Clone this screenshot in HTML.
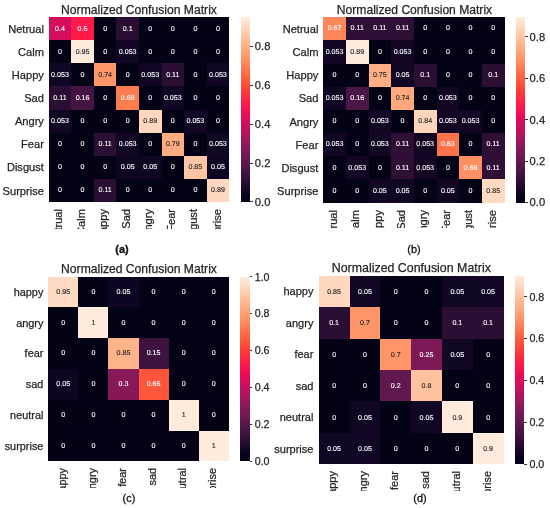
<!DOCTYPE html>
<html><head><meta charset="utf-8"><title>Normalized Confusion Matrix</title>
<style>
html,body{margin:0;padding:0;background:#fff;}
body{--sx:1;width:550px;height:508px;position:relative;overflow:hidden;font-family:"Liberation Sans",Arial,sans-serif;color:#262626;}
div{position:absolute;box-sizing:border-box;}
.c{text-align:center;font-size:7.1px;line-height:1;white-space:nowrap;-webkit-text-stroke:0.12px currentColor;text-rendering:geometricPrecision;}
.c span{display:block;position:relative;transform:scaleX(var(--sx));}
.t{white-space:nowrap;line-height:1;-webkit-text-stroke:0.25px #262626;}
.title{transform:translateX(-50%) scaleX(var(--sx));}
.yl{text-align:right;transform-origin:100% 50%;transform:translateX(-100%) scaleX(var(--sx));}
.cl{transform-origin:0 50%;transform:scaleX(var(--sx));}
.tk{background:#333;height:0.8px;}
.cap{transform:translateX(-50%) scaleX(0.95);font-size:11.5px;color:#111;-webkit-text-stroke:0.3px #111;}
.clip{overflow:hidden;}
.xlw{width:0;height:0;}
.xl2{right:0;top:0;transform-origin:100% 0;transform:translateX(-0.6em) rotate(-90deg);}
</style></head><body>
<!-- panel a -->
<div class="t title" style="left:139.0px;top:4px;font-size:12.15px">Normalized Confusion Matrix</div>
<div style="left:48.7px;top:17.3px;width:180.5px;height:184.5px;background:#040316"></div>
<div class="t yl" style="--sx:1.000;left:43.9px;top:24px;font-size:11.1px">Netrual</div>
<div class="c" style="left:48.70px;top:17.30px;width:22.61px;height:23.11px;background:#d40d5d;color:#fff"><span style="top:8.70px">0.4</span></div>
<div class="c" style="left:71.26px;top:17.30px;width:22.61px;height:23.11px;background:#ff1a4a;color:#fff"><span style="top:8.70px">0.5</span></div>
<div class="c" style="left:93.83px;top:17.30px;width:22.61px;height:23.11px;background:#040316;color:#fff"><span style="top:8.70px">0</span></div>
<div class="c" style="left:116.39px;top:17.30px;width:22.61px;height:23.11px;background:#290e32;color:#fff"><span style="top:8.70px">0.1</span></div>
<div class="c" style="left:138.95px;top:17.30px;width:22.61px;height:23.11px;background:#040316;color:#fff"><span style="top:8.70px">0</span></div>
<div class="c" style="left:161.51px;top:17.30px;width:22.61px;height:23.11px;background:#040316;color:#fff"><span style="top:8.70px">0</span></div>
<div class="c" style="left:184.07px;top:17.30px;width:22.61px;height:23.11px;background:#040316;color:#fff"><span style="top:8.70px">0</span></div>
<div class="c" style="left:206.64px;top:17.30px;width:22.61px;height:23.11px;background:#040316;color:#fff"><span style="top:8.70px">0</span></div>
<div class="t yl" style="--sx:1.000;left:43.9px;top:47px;font-size:11.1px">Calm</div>
<div class="c" style="left:48.70px;top:40.36px;width:22.61px;height:23.11px;background:#040316;color:#fff"><span style="top:8.64px">0</span></div>
<div class="c" style="left:71.26px;top:40.36px;width:22.61px;height:23.11px;background:#ffebdd;color:#262626"><span style="top:8.64px">0.95</span></div>
<div class="c" style="left:93.83px;top:40.36px;width:22.61px;height:23.11px;background:#040316;color:#fff"><span style="top:8.64px">0</span></div>
<div class="c" style="left:116.39px;top:40.36px;width:22.61px;height:23.11px;background:#110623;color:#fff"><span style="top:8.64px">0.053</span></div>
<div class="c" style="left:138.95px;top:40.36px;width:22.61px;height:23.11px;background:#040316;color:#fff"><span style="top:8.64px">0</span></div>
<div class="c" style="left:161.51px;top:40.36px;width:22.61px;height:23.11px;background:#040316;color:#fff"><span style="top:8.64px">0</span></div>
<div class="c" style="left:184.07px;top:40.36px;width:22.61px;height:23.11px;background:#040316;color:#fff"><span style="top:8.64px">0</span></div>
<div class="c" style="left:206.64px;top:40.36px;width:22.61px;height:23.11px;background:#040316;color:#fff"><span style="top:8.64px">0</span></div>
<div class="t yl" style="--sx:1.000;left:43.9px;top:70px;font-size:11.1px">Happy</div>
<div class="c" style="left:48.70px;top:63.42px;width:22.61px;height:23.11px;background:#110623;color:#fff"><span style="top:8.58px">0.053</span></div>
<div class="c" style="left:71.26px;top:63.42px;width:22.61px;height:23.11px;background:#040316;color:#fff"><span style="top:8.58px">0</span></div>
<div class="c" style="left:93.83px;top:63.42px;width:22.61px;height:23.11px;background:#ff9569;color:#262626"><span style="top:8.58px">0.74</span></div>
<div class="c" style="left:116.39px;top:63.42px;width:22.61px;height:23.11px;background:#040316;color:#fff"><span style="top:8.58px">0</span></div>
<div class="c" style="left:138.95px;top:63.42px;width:22.61px;height:23.11px;background:#110623;color:#fff"><span style="top:8.58px">0.053</span></div>
<div class="c" style="left:161.51px;top:63.42px;width:22.61px;height:23.11px;background:#2b0e34;color:#fff"><span style="top:8.58px">0.11</span></div>
<div class="c" style="left:184.07px;top:63.42px;width:22.61px;height:23.11px;background:#040316;color:#fff"><span style="top:8.58px">0</span></div>
<div class="c" style="left:206.64px;top:63.42px;width:22.61px;height:23.11px;background:#110623;color:#fff"><span style="top:8.58px">0.053</span></div>
<div class="t yl" style="--sx:1.000;left:43.9px;top:93px;font-size:11.1px">Sad</div>
<div class="c" style="left:48.70px;top:86.49px;width:22.61px;height:23.11px;background:#2b0e34;color:#fff"><span style="top:8.51px">0.11</span></div>
<div class="c" style="left:71.26px;top:86.49px;width:22.61px;height:23.11px;background:#461443;color:#fff"><span style="top:8.51px">0.16</span></div>
<div class="c" style="left:93.83px;top:86.49px;width:22.61px;height:23.11px;background:#040316;color:#fff"><span style="top:8.51px">0</span></div>
<div class="c" style="left:116.39px;top:86.49px;width:22.61px;height:23.11px;background:#ff7b50;color:#fff"><span style="top:8.51px">0.68</span></div>
<div class="c" style="left:138.95px;top:86.49px;width:22.61px;height:23.11px;background:#040316;color:#fff"><span style="top:8.51px">0</span></div>
<div class="c" style="left:161.51px;top:86.49px;width:22.61px;height:23.11px;background:#110623;color:#fff"><span style="top:8.51px">0.053</span></div>
<div class="c" style="left:184.07px;top:86.49px;width:22.61px;height:23.11px;background:#040316;color:#fff"><span style="top:8.51px">0</span></div>
<div class="c" style="left:206.64px;top:86.49px;width:22.61px;height:23.11px;background:#040316;color:#fff"><span style="top:8.51px">0</span></div>
<div class="t yl" style="--sx:1.000;left:43.9px;top:116px;font-size:11.1px">Angry</div>
<div class="c" style="left:48.70px;top:109.55px;width:22.61px;height:23.11px;background:#110623;color:#fff"><span style="top:8.45px">0.053</span></div>
<div class="c" style="left:71.26px;top:109.55px;width:22.61px;height:23.11px;background:#040316;color:#fff"><span style="top:8.45px">0</span></div>
<div class="c" style="left:93.83px;top:109.55px;width:22.61px;height:23.11px;background:#040316;color:#fff"><span style="top:8.45px">0</span></div>
<div class="c" style="left:116.39px;top:109.55px;width:22.61px;height:23.11px;background:#040316;color:#fff"><span style="top:8.45px">0</span></div>
<div class="c" style="left:138.95px;top:109.55px;width:22.61px;height:23.11px;background:#ffd7bf;color:#262626"><span style="top:8.45px">0.89</span></div>
<div class="c" style="left:161.51px;top:109.55px;width:22.61px;height:23.11px;background:#040316;color:#fff"><span style="top:8.45px">0</span></div>
<div class="c" style="left:184.07px;top:109.55px;width:22.61px;height:23.11px;background:#110623;color:#fff"><span style="top:8.45px">0.053</span></div>
<div class="c" style="left:206.64px;top:109.55px;width:22.61px;height:23.11px;background:#040316;color:#fff"><span style="top:8.45px">0</span></div>
<div class="t yl" style="--sx:1.000;left:43.9px;top:139px;font-size:11.1px">Fear</div>
<div class="c" style="left:48.70px;top:132.61px;width:22.61px;height:23.11px;background:#040316;color:#fff"><span style="top:8.39px">0</span></div>
<div class="c" style="left:71.26px;top:132.61px;width:22.61px;height:23.11px;background:#040316;color:#fff"><span style="top:8.39px">0</span></div>
<div class="c" style="left:93.83px;top:132.61px;width:22.61px;height:23.11px;background:#2b0e34;color:#fff"><span style="top:8.39px">0.11</span></div>
<div class="c" style="left:116.39px;top:132.61px;width:22.61px;height:23.11px;background:#110623;color:#fff"><span style="top:8.39px">0.053</span></div>
<div class="c" style="left:138.95px;top:132.61px;width:22.61px;height:23.11px;background:#040316;color:#fff"><span style="top:8.39px">0</span></div>
<div class="c" style="left:161.51px;top:132.61px;width:22.61px;height:23.11px;background:#ffac82;color:#262626"><span style="top:8.39px">0.79</span></div>
<div class="c" style="left:184.07px;top:132.61px;width:22.61px;height:23.11px;background:#040316;color:#fff"><span style="top:8.39px">0</span></div>
<div class="c" style="left:206.64px;top:132.61px;width:22.61px;height:23.11px;background:#110623;color:#fff"><span style="top:8.39px">0.053</span></div>
<div class="t yl" style="--sx:1.000;left:43.9px;top:162px;font-size:11.1px">Disgust</div>
<div class="c" style="left:48.70px;top:155.68px;width:22.61px;height:23.11px;background:#040316;color:#fff"><span style="top:8.32px">0</span></div>
<div class="c" style="left:71.26px;top:155.68px;width:22.61px;height:23.11px;background:#040316;color:#fff"><span style="top:8.32px">0</span></div>
<div class="c" style="left:93.83px;top:155.68px;width:22.61px;height:23.11px;background:#040316;color:#fff"><span style="top:8.32px">0</span></div>
<div class="c" style="left:116.39px;top:155.68px;width:22.61px;height:23.11px;background:#0f0522;color:#fff"><span style="top:8.32px">0.05</span></div>
<div class="c" style="left:138.95px;top:155.68px;width:22.61px;height:23.11px;background:#0f0522;color:#fff"><span style="top:8.32px">0.05</span></div>
<div class="c" style="left:161.51px;top:155.68px;width:22.61px;height:23.11px;background:#040316;color:#fff"><span style="top:8.32px">0</span></div>
<div class="c" style="left:184.07px;top:155.68px;width:22.61px;height:23.11px;background:#ffc5a4;color:#262626"><span style="top:8.32px">0.85</span></div>
<div class="c" style="left:206.64px;top:155.68px;width:22.61px;height:23.11px;background:#0f0522;color:#fff"><span style="top:8.32px">0.05</span></div>
<div class="t yl" style="--sx:1.000;left:43.9px;top:186px;font-size:11.1px">Surprise</div>
<div class="c" style="left:48.70px;top:178.74px;width:22.61px;height:23.11px;background:#040316;color:#fff"><span style="top:8.26px">0</span></div>
<div class="c" style="left:71.26px;top:178.74px;width:22.61px;height:23.11px;background:#040316;color:#fff"><span style="top:8.26px">0</span></div>
<div class="c" style="left:93.83px;top:178.74px;width:22.61px;height:23.11px;background:#2b0e34;color:#fff"><span style="top:8.26px">0.11</span></div>
<div class="c" style="left:116.39px;top:178.74px;width:22.61px;height:23.11px;background:#040316;color:#fff"><span style="top:8.26px">0</span></div>
<div class="c" style="left:138.95px;top:178.74px;width:22.61px;height:23.11px;background:#040316;color:#fff"><span style="top:8.26px">0</span></div>
<div class="c" style="left:161.51px;top:178.74px;width:22.61px;height:23.11px;background:#040316;color:#fff"><span style="top:8.26px">0</span></div>
<div class="c" style="left:184.07px;top:178.74px;width:22.61px;height:23.11px;background:#040316;color:#fff"><span style="top:8.26px">0</span></div>
<div class="c" style="left:206.64px;top:178.74px;width:22.61px;height:23.11px;background:#ffd7bf;color:#262626"><span style="top:8.26px">0.89</span></div>
<div class="clip" style="left:43.7px;top:203.8px;width:190.5px;height:25.2px">
<div class="t xlw" style="left:16.3px;top:5.0px;font-size:11.1px"><div class="t xl2">Netrual</div></div>
<div class="t xlw" style="left:38.8px;top:5.0px;font-size:11.1px"><div class="t xl2">Calm</div></div>
<div class="t xlw" style="left:61.4px;top:5.0px;font-size:11.1px"><div class="t xl2">Happy</div></div>
<div class="t xlw" style="left:84.0px;top:5.0px;font-size:11.1px"><div class="t xl2">Sad</div></div>
<div class="t xlw" style="left:106.5px;top:5.0px;font-size:11.1px"><div class="t xl2">Angry</div></div>
<div class="t xlw" style="left:129.1px;top:5.0px;font-size:11.1px"><div class="t xl2">Fear</div></div>
<div class="t xlw" style="left:151.7px;top:5.0px;font-size:11.1px"><div class="t xl2">Disgust</div></div>
<div class="t xlw" style="left:174.2px;top:5.0px;font-size:11.1px"><div class="t xl2">Surprise</div></div>
</div>
<div style="left:240.7px;top:17.3px;width:9.5px;height:184.5px;background:linear-gradient(to top,#040316 0.0%,#04031a 2.5%,#0d0521 5.0%,#1a0929 7.5%,#250c30 10.0%,#331038 12.5%,#3e133f 15.0%,#4a1544 17.5%,#57174b 20.0%,#63184f 22.5%,#711954 25.0%,#7c1957 27.5%,#881959 30.0%,#98185c 32.5%,#a6165d 35.0%,#b6135e 37.5%,#c5105e 40.0%,#d30d5d 42.5%,#e10b5a 45.0%,#ec0c56 47.5%,#f81150 50.0%,#ff184b 52.5%,#ff2245 55.0%,#ff2f3f 57.5%,#ff3a3b 60.0%,#ff4939 62.5%,#ff563b 65.0%,#ff6340 67.5%,#ff7149 70.0%,#ff7c52 72.5%,#ff895d 75.0%,#ff9467 77.5%,#ff9e72 80.0%,#ffa97f 82.5%,#ffb38a 85.0%,#ffbe99 87.5%,#ffc7a6 90.0%,#ffd0b3 92.5%,#ffdac3 95.0%,#ffe3d0 97.5%,#ffebdd 100.0%)"></div>
<div class="tk" style="left:250.2px;top:201.4px;width:2.8px"></div><div class="t cl" style="--sx:1.00;left:254.8px;top:197px;font-size:11.2px">0.0</div>
<div class="tk" style="left:250.2px;top:162.5px;width:2.8px"></div><div class="t cl" style="--sx:1.00;left:254.8px;top:158px;font-size:11.2px">0.2</div>
<div class="tk" style="left:250.2px;top:123.5px;width:2.8px"></div><div class="t cl" style="--sx:1.00;left:254.8px;top:119px;font-size:11.2px">0.4</div>
<div class="tk" style="left:250.2px;top:84.6px;width:2.8px"></div><div class="t cl" style="--sx:1.00;left:254.8px;top:80px;font-size:11.2px">0.6</div>
<div class="tk" style="left:250.2px;top:45.6px;width:2.8px"></div><div class="t cl" style="--sx:1.00;left:254.8px;top:41px;font-size:11.2px">0.8</div>
<div class="t cap" style="left:121.6px;top:244px;font-weight:bold;">(a)</div>
<!-- panel b -->
<div class="t title" style="left:414.5px;top:4px;font-size:12.10px">Normalized Confusion Matrix</div>
<div style="left:323.2px;top:17.2px;width:181.3px;height:185.4px;background:#040316"></div>
<div class="t yl" style="--sx:1.000;left:318.4px;top:24px;font-size:11.1px">Netrual</div>
<div class="c" style="left:323.20px;top:17.20px;width:22.71px;height:23.23px;background:#ff865a;color:#fff"><span style="top:7.80px">0.67</span></div>
<div class="c" style="left:345.86px;top:17.20px;width:22.71px;height:23.23px;background:#2f0f36;color:#fff"><span style="top:7.80px">0.11</span></div>
<div class="c" style="left:368.52px;top:17.20px;width:22.71px;height:23.23px;background:#2f0f36;color:#fff"><span style="top:7.80px">0.11</span></div>
<div class="c" style="left:391.19px;top:17.20px;width:22.71px;height:23.23px;background:#2f0f36;color:#fff"><span style="top:7.80px">0.11</span></div>
<div class="c" style="left:413.85px;top:17.20px;width:22.71px;height:23.23px;background:#040316;color:#fff"><span style="top:7.80px">0</span></div>
<div class="c" style="left:436.51px;top:17.20px;width:22.71px;height:23.23px;background:#040316;color:#fff"><span style="top:7.80px">0</span></div>
<div class="c" style="left:459.18px;top:17.20px;width:22.71px;height:23.23px;background:#040316;color:#fff"><span style="top:7.80px">0</span></div>
<div class="c" style="left:481.84px;top:17.20px;width:22.71px;height:23.23px;background:#040316;color:#fff"><span style="top:7.80px">0</span></div>
<div class="t yl" style="--sx:1.000;left:318.4px;top:47px;font-size:11.1px">Calm</div>
<div class="c" style="left:323.20px;top:40.38px;width:22.71px;height:23.23px;background:#120624;color:#fff"><span style="top:8.62px">0.053</span></div>
<div class="c" style="left:345.86px;top:40.38px;width:22.71px;height:23.23px;background:#ffebdd;color:#262626"><span style="top:8.62px">0.89</span></div>
<div class="c" style="left:368.52px;top:40.38px;width:22.71px;height:23.23px;background:#040316;color:#fff"><span style="top:8.62px">0</span></div>
<div class="c" style="left:391.19px;top:40.38px;width:22.71px;height:23.23px;background:#120624;color:#fff"><span style="top:8.62px">0.053</span></div>
<div class="c" style="left:413.85px;top:40.38px;width:22.71px;height:23.23px;background:#040316;color:#fff"><span style="top:8.62px">0</span></div>
<div class="c" style="left:436.51px;top:40.38px;width:22.71px;height:23.23px;background:#040316;color:#fff"><span style="top:8.62px">0</span></div>
<div class="c" style="left:459.18px;top:40.38px;width:22.71px;height:23.23px;background:#040316;color:#fff"><span style="top:8.62px">0</span></div>
<div class="c" style="left:481.84px;top:40.38px;width:22.71px;height:23.23px;background:#040316;color:#fff"><span style="top:8.62px">0</span></div>
<div class="t yl" style="--sx:1.000;left:318.4px;top:70px;font-size:11.1px">Happy</div>
<div class="c" style="left:323.20px;top:63.55px;width:22.71px;height:23.23px;background:#040316;color:#fff"><span style="top:8.45px">0</span></div>
<div class="c" style="left:345.86px;top:63.55px;width:22.71px;height:23.23px;background:#040316;color:#fff"><span style="top:8.45px">0</span></div>
<div class="c" style="left:368.52px;top:63.55px;width:22.71px;height:23.23px;background:#ffae84;color:#262626"><span style="top:8.45px">0.75</span></div>
<div class="c" style="left:391.19px;top:63.55px;width:22.71px;height:23.23px;background:#110623;color:#fff"><span style="top:8.45px">0.05</span></div>
<div class="c" style="left:413.85px;top:63.55px;width:22.71px;height:23.23px;background:#2b0e34;color:#fff"><span style="top:8.45px">0.1</span></div>
<div class="c" style="left:436.51px;top:63.55px;width:22.71px;height:23.23px;background:#040316;color:#fff"><span style="top:8.45px">0</span></div>
<div class="c" style="left:459.18px;top:63.55px;width:22.71px;height:23.23px;background:#040316;color:#fff"><span style="top:8.45px">0</span></div>
<div class="c" style="left:481.84px;top:63.55px;width:22.71px;height:23.23px;background:#2b0e34;color:#fff"><span style="top:8.45px">0.1</span></div>
<div class="t yl" style="--sx:1.000;left:318.4px;top:93px;font-size:11.1px">Sad</div>
<div class="c" style="left:323.20px;top:86.73px;width:22.71px;height:23.23px;background:#120624;color:#fff"><span style="top:8.27px">0.053</span></div>
<div class="c" style="left:345.86px;top:86.73px;width:22.71px;height:23.23px;background:#4b1545;color:#fff"><span style="top:8.27px">0.16</span></div>
<div class="c" style="left:368.52px;top:86.73px;width:22.71px;height:23.23px;background:#040316;color:#fff"><span style="top:8.27px">0</span></div>
<div class="c" style="left:391.19px;top:86.73px;width:22.71px;height:23.23px;background:#ffa87d;color:#262626"><span style="top:8.27px">0.74</span></div>
<div class="c" style="left:413.85px;top:86.73px;width:22.71px;height:23.23px;background:#040316;color:#fff"><span style="top:8.27px">0</span></div>
<div class="c" style="left:436.51px;top:86.73px;width:22.71px;height:23.23px;background:#120624;color:#fff"><span style="top:8.27px">0.053</span></div>
<div class="c" style="left:459.18px;top:86.73px;width:22.71px;height:23.23px;background:#040316;color:#fff"><span style="top:8.27px">0</span></div>
<div class="c" style="left:481.84px;top:86.73px;width:22.71px;height:23.23px;background:#040316;color:#fff"><span style="top:8.27px">0</span></div>
<div class="t yl" style="--sx:1.000;left:318.4px;top:117px;font-size:11.1px">Angry</div>
<div class="c" style="left:323.20px;top:109.90px;width:22.71px;height:23.23px;background:#040316;color:#fff"><span style="top:8.10px">0</span></div>
<div class="c" style="left:345.86px;top:109.90px;width:22.71px;height:23.23px;background:#040316;color:#fff"><span style="top:8.10px">0</span></div>
<div class="c" style="left:368.52px;top:109.90px;width:22.71px;height:23.23px;background:#120624;color:#fff"><span style="top:8.10px">0.053</span></div>
<div class="c" style="left:391.19px;top:109.90px;width:22.71px;height:23.23px;background:#040316;color:#fff"><span style="top:8.10px">0</span></div>
<div class="c" style="left:413.85px;top:109.90px;width:22.71px;height:23.23px;background:#ffd6bc;color:#262626"><span style="top:8.10px">0.84</span></div>
<div class="c" style="left:436.51px;top:109.90px;width:22.71px;height:23.23px;background:#120624;color:#fff"><span style="top:8.10px">0.053</span></div>
<div class="c" style="left:459.18px;top:109.90px;width:22.71px;height:23.23px;background:#120624;color:#fff"><span style="top:8.10px">0.053</span></div>
<div class="c" style="left:481.84px;top:109.90px;width:22.71px;height:23.23px;background:#040316;color:#fff"><span style="top:8.10px">0</span></div>
<div class="t yl" style="--sx:1.000;left:318.4px;top:140px;font-size:11.1px">Fear</div>
<div class="c" style="left:323.20px;top:133.07px;width:22.71px;height:23.23px;background:#120624;color:#fff"><span style="top:7.93px">0.053</span></div>
<div class="c" style="left:345.86px;top:133.07px;width:22.71px;height:23.23px;background:#040316;color:#fff"><span style="top:7.93px">0</span></div>
<div class="c" style="left:368.52px;top:133.07px;width:22.71px;height:23.23px;background:#120624;color:#fff"><span style="top:7.93px">0.053</span></div>
<div class="c" style="left:391.19px;top:133.07px;width:22.71px;height:23.23px;background:#2f0f36;color:#fff"><span style="top:7.93px">0.11</span></div>
<div class="c" style="left:413.85px;top:133.07px;width:22.71px;height:23.23px;background:#120624;color:#fff"><span style="top:7.93px">0.053</span></div>
<div class="c" style="left:436.51px;top:133.07px;width:22.71px;height:23.23px;background:#ff734a;color:#fff"><span style="top:7.93px">0.63</span></div>
<div class="c" style="left:459.18px;top:133.07px;width:22.71px;height:23.23px;background:#040316;color:#fff"><span style="top:7.93px">0</span></div>
<div class="c" style="left:481.84px;top:133.07px;width:22.71px;height:23.23px;background:#2f0f36;color:#fff"><span style="top:7.93px">0.11</span></div>
<div class="t yl" style="--sx:1.000;left:318.4px;top:163px;font-size:11.1px">Disgust</div>
<div class="c" style="left:323.20px;top:156.25px;width:22.71px;height:23.23px;background:#040316;color:#fff"><span style="top:8.75px">0</span></div>
<div class="c" style="left:345.86px;top:156.25px;width:22.71px;height:23.23px;background:#120624;color:#fff"><span style="top:8.75px">0.053</span></div>
<div class="c" style="left:368.52px;top:156.25px;width:22.71px;height:23.23px;background:#040316;color:#fff"><span style="top:8.75px">0</span></div>
<div class="c" style="left:391.19px;top:156.25px;width:22.71px;height:23.23px;background:#2f0f36;color:#fff"><span style="top:8.75px">0.11</span></div>
<div class="c" style="left:413.85px;top:156.25px;width:22.71px;height:23.23px;background:#120624;color:#fff"><span style="top:8.75px">0.053</span></div>
<div class="c" style="left:436.51px;top:156.25px;width:22.71px;height:23.23px;background:#040316;color:#fff"><span style="top:8.75px">0</span></div>
<div class="c" style="left:459.18px;top:156.25px;width:22.71px;height:23.23px;background:#ff8e62;color:#fff"><span style="top:8.75px">0.68</span></div>
<div class="c" style="left:481.84px;top:156.25px;width:22.71px;height:23.23px;background:#2f0f36;color:#fff"><span style="top:8.75px">0.11</span></div>
<div class="t yl" style="--sx:1.000;left:318.4px;top:186px;font-size:11.1px">Surprise</div>
<div class="c" style="left:323.20px;top:179.42px;width:22.71px;height:23.23px;background:#040316;color:#fff"><span style="top:8.58px">0</span></div>
<div class="c" style="left:345.86px;top:179.42px;width:22.71px;height:23.23px;background:#040316;color:#fff"><span style="top:8.58px">0</span></div>
<div class="c" style="left:368.52px;top:179.42px;width:22.71px;height:23.23px;background:#110623;color:#fff"><span style="top:8.58px">0.05</span></div>
<div class="c" style="left:391.19px;top:179.42px;width:22.71px;height:23.23px;background:#110623;color:#fff"><span style="top:8.58px">0.05</span></div>
<div class="c" style="left:413.85px;top:179.42px;width:22.71px;height:23.23px;background:#040316;color:#fff"><span style="top:8.58px">0</span></div>
<div class="c" style="left:436.51px;top:179.42px;width:22.71px;height:23.23px;background:#110623;color:#fff"><span style="top:8.58px">0.05</span></div>
<div class="c" style="left:459.18px;top:179.42px;width:22.71px;height:23.23px;background:#040316;color:#fff"><span style="top:8.58px">0</span></div>
<div class="c" style="left:481.84px;top:179.42px;width:22.71px;height:23.23px;background:#ffdac3;color:#262626"><span style="top:8.58px">0.85</span></div>
<div class="clip" style="left:318.2px;top:204.6px;width:191.3px;height:23.8px">
<div class="t xlw" style="left:16.3px;top:5.2px;font-size:11.1px"><div class="t xl2">Netrual</div></div>
<div class="t xlw" style="left:39.0px;top:5.2px;font-size:11.1px"><div class="t xl2">Calm</div></div>
<div class="t xlw" style="left:61.7px;top:5.2px;font-size:11.1px"><div class="t xl2">Happy</div></div>
<div class="t xlw" style="left:84.3px;top:5.2px;font-size:11.1px"><div class="t xl2">Sad</div></div>
<div class="t xlw" style="left:107.0px;top:5.2px;font-size:11.1px"><div class="t xl2">Angry</div></div>
<div class="t xlw" style="left:129.6px;top:5.2px;font-size:11.1px"><div class="t xl2">Fear</div></div>
<div class="t xlw" style="left:152.3px;top:5.2px;font-size:11.1px"><div class="t xl2">Disgust</div></div>
<div class="t xlw" style="left:175.0px;top:5.2px;font-size:11.1px"><div class="t xl2">Surprise</div></div>
</div>
<div style="left:515.8px;top:17.2px;width:9.2px;height:185.4px;background:linear-gradient(to top,#040316 0.0%,#04031a 2.5%,#0d0521 5.0%,#1a0929 7.5%,#250c30 10.0%,#331038 12.5%,#3e133f 15.0%,#4a1544 17.5%,#57174b 20.0%,#63184f 22.5%,#711954 25.0%,#7c1957 27.5%,#881959 30.0%,#98185c 32.5%,#a6165d 35.0%,#b6135e 37.5%,#c5105e 40.0%,#d30d5d 42.5%,#e10b5a 45.0%,#ec0c56 47.5%,#f81150 50.0%,#ff184b 52.5%,#ff2245 55.0%,#ff2f3f 57.5%,#ff3a3b 60.0%,#ff4939 62.5%,#ff563b 65.0%,#ff6340 67.5%,#ff7149 70.0%,#ff7c52 72.5%,#ff895d 75.0%,#ff9467 77.5%,#ff9e72 80.0%,#ffa97f 82.5%,#ffb38a 85.0%,#ffbe99 87.5%,#ffc7a6 90.0%,#ffd0b3 92.5%,#ffdac3 95.0%,#ffe3d0 97.5%,#ffebdd 100.0%)"></div>
<div class="tk" style="left:525.0px;top:202.2px;width:2.8px"></div><div class="t cl" style="--sx:1.00;left:529.6px;top:197px;font-size:11.2px">0.0</div>
<div class="tk" style="left:525.0px;top:160.8px;width:2.8px"></div><div class="t cl" style="--sx:1.00;left:529.6px;top:156px;font-size:11.2px">0.2</div>
<div class="tk" style="left:525.0px;top:119.3px;width:2.8px"></div><div class="t cl" style="--sx:1.00;left:529.6px;top:115px;font-size:11.2px">0.4</div>
<div class="tk" style="left:525.0px;top:77.9px;width:2.8px"></div><div class="t cl" style="--sx:1.00;left:529.6px;top:73px;font-size:11.2px">0.6</div>
<div class="tk" style="left:525.0px;top:36.4px;width:2.8px"></div><div class="t cl" style="--sx:1.00;left:529.6px;top:32px;font-size:11.2px">0.8</div>
<div class="t cap" style="left:413.5px;top:244px;">(b)</div>
<!-- panel c -->
<div class="t title" style="left:139.0px;top:263px;font-size:12.15px">Normalized Confusion Matrix</div>
<div style="left:48.2px;top:276.7px;width:180.6px;height:184.7px;background:#040316"></div>
<div class="t yl" style="--sx:1.000;left:43.4px;top:287px;font-size:10.9px">happy</div>
<div class="c" style="left:48.20px;top:276.70px;width:30.15px;height:30.83px;background:#ffdac3;color:#262626"><span style="top:12.30px">0.95</span></div>
<div class="c" style="left:78.30px;top:276.70px;width:30.15px;height:30.83px;background:#040316;color:#fff"><span style="top:12.30px">0</span></div>
<div class="c" style="left:108.40px;top:276.70px;width:30.15px;height:30.83px;background:#0d0521;color:#fff"><span style="top:12.30px">0.05</span></div>
<div class="c" style="left:138.50px;top:276.70px;width:30.15px;height:30.83px;background:#040316;color:#fff"><span style="top:12.30px">0</span></div>
<div class="c" style="left:168.60px;top:276.70px;width:30.15px;height:30.83px;background:#040316;color:#fff"><span style="top:12.30px">0</span></div>
<div class="c" style="left:198.70px;top:276.70px;width:30.15px;height:30.83px;background:#040316;color:#fff"><span style="top:12.30px">0</span></div>
<div class="t yl" style="--sx:1.000;left:43.4px;top:318px;font-size:10.9px">angry</div>
<div class="c" style="left:48.20px;top:307.48px;width:30.15px;height:30.83px;background:#040316;color:#fff"><span style="top:12.52px">0</span></div>
<div class="c" style="left:78.30px;top:307.48px;width:30.15px;height:30.83px;background:#ffebdd;color:#262626"><span style="top:12.52px">1</span></div>
<div class="c" style="left:108.40px;top:307.48px;width:30.15px;height:30.83px;background:#040316;color:#fff"><span style="top:12.52px">0</span></div>
<div class="c" style="left:138.50px;top:307.48px;width:30.15px;height:30.83px;background:#040316;color:#fff"><span style="top:12.52px">0</span></div>
<div class="c" style="left:168.60px;top:307.48px;width:30.15px;height:30.83px;background:#040316;color:#fff"><span style="top:12.52px">0</span></div>
<div class="c" style="left:198.70px;top:307.48px;width:30.15px;height:30.83px;background:#040316;color:#fff"><span style="top:12.52px">0</span></div>
<div class="t yl" style="--sx:1.000;left:43.4px;top:348px;font-size:10.9px">fear</div>
<div class="c" style="left:48.20px;top:338.27px;width:30.15px;height:30.83px;background:#040316;color:#fff"><span style="top:11.73px">0</span></div>
<div class="c" style="left:78.30px;top:338.27px;width:30.15px;height:30.83px;background:#040316;color:#fff"><span style="top:11.73px">0</span></div>
<div class="c" style="left:108.40px;top:338.27px;width:30.15px;height:30.83px;background:#ffb38a;color:#262626"><span style="top:11.73px">0.85</span></div>
<div class="c" style="left:138.50px;top:338.27px;width:30.15px;height:30.83px;background:#3e133f;color:#fff"><span style="top:11.73px">0.15</span></div>
<div class="c" style="left:168.60px;top:338.27px;width:30.15px;height:30.83px;background:#040316;color:#fff"><span style="top:11.73px">0</span></div>
<div class="c" style="left:198.70px;top:338.27px;width:30.15px;height:30.83px;background:#040316;color:#fff"><span style="top:11.73px">0</span></div>
<div class="t yl" style="--sx:1.000;left:43.4px;top:379px;font-size:10.9px">sad</div>
<div class="c" style="left:48.20px;top:369.05px;width:30.15px;height:30.83px;background:#0d0521;color:#fff"><span style="top:11.95px">0.05</span></div>
<div class="c" style="left:78.30px;top:369.05px;width:30.15px;height:30.83px;background:#040316;color:#fff"><span style="top:11.95px">0</span></div>
<div class="c" style="left:108.40px;top:369.05px;width:30.15px;height:30.83px;background:#881959;color:#fff"><span style="top:11.95px">0.3</span></div>
<div class="c" style="left:138.50px;top:369.05px;width:30.15px;height:30.83px;background:#ff563b;color:#fff"><span style="top:11.95px">0.65</span></div>
<div class="c" style="left:168.60px;top:369.05px;width:30.15px;height:30.83px;background:#040316;color:#fff"><span style="top:11.95px">0</span></div>
<div class="c" style="left:198.70px;top:369.05px;width:30.15px;height:30.83px;background:#040316;color:#fff"><span style="top:11.95px">0</span></div>
<div class="t yl" style="--sx:1.000;left:43.4px;top:410px;font-size:10.9px">neutral</div>
<div class="c" style="left:48.20px;top:399.83px;width:30.15px;height:30.83px;background:#040316;color:#fff"><span style="top:12.17px">0</span></div>
<div class="c" style="left:78.30px;top:399.83px;width:30.15px;height:30.83px;background:#040316;color:#fff"><span style="top:12.17px">0</span></div>
<div class="c" style="left:108.40px;top:399.83px;width:30.15px;height:30.83px;background:#040316;color:#fff"><span style="top:12.17px">0</span></div>
<div class="c" style="left:138.50px;top:399.83px;width:30.15px;height:30.83px;background:#040316;color:#fff"><span style="top:12.17px">0</span></div>
<div class="c" style="left:168.60px;top:399.83px;width:30.15px;height:30.83px;background:#ffebdd;color:#262626"><span style="top:12.17px">1</span></div>
<div class="c" style="left:198.70px;top:399.83px;width:30.15px;height:30.83px;background:#040316;color:#fff"><span style="top:12.17px">0</span></div>
<div class="t yl" style="--sx:1.000;left:43.4px;top:441px;font-size:10.9px">surprise</div>
<div class="c" style="left:48.20px;top:430.62px;width:30.15px;height:30.83px;background:#040316;color:#fff"><span style="top:12.38px">0</span></div>
<div class="c" style="left:78.30px;top:430.62px;width:30.15px;height:30.83px;background:#040316;color:#fff"><span style="top:12.38px">0</span></div>
<div class="c" style="left:108.40px;top:430.62px;width:30.15px;height:30.83px;background:#040316;color:#fff"><span style="top:12.38px">0</span></div>
<div class="c" style="left:138.50px;top:430.62px;width:30.15px;height:30.83px;background:#040316;color:#fff"><span style="top:12.38px">0</span></div>
<div class="c" style="left:168.60px;top:430.62px;width:30.15px;height:30.83px;background:#040316;color:#fff"><span style="top:12.38px">0</span></div>
<div class="c" style="left:198.70px;top:430.62px;width:30.15px;height:30.83px;background:#ffebdd;color:#262626"><span style="top:12.38px">1</span></div>
<div class="clip" style="left:43.2px;top:463.4px;width:190.6px;height:24.5px">
<div class="t xlw" style="left:20.1px;top:4.4px;font-size:10.9px"><div class="t xl2">happy</div></div>
<div class="t xlw" style="left:50.2px;top:4.4px;font-size:10.9px"><div class="t xl2">angry</div></div>
<div class="t xlw" style="left:80.3px;top:4.4px;font-size:10.9px"><div class="t xl2">fear</div></div>
<div class="t xlw" style="left:110.4px;top:4.4px;font-size:10.9px"><div class="t xl2">sad</div></div>
<div class="t xlw" style="left:140.5px;top:4.4px;font-size:10.9px"><div class="t xl2">neutral</div></div>
<div class="t xlw" style="left:170.6px;top:4.4px;font-size:10.9px"><div class="t xl2">surprise</div></div>
</div>
<div style="left:239.9px;top:276.7px;width:9.8px;height:184.7px;background:linear-gradient(to top,#040316 0.0%,#04031a 2.5%,#0d0521 5.0%,#1a0929 7.5%,#250c30 10.0%,#331038 12.5%,#3e133f 15.0%,#4a1544 17.5%,#57174b 20.0%,#63184f 22.5%,#711954 25.0%,#7c1957 27.5%,#881959 30.0%,#98185c 32.5%,#a6165d 35.0%,#b6135e 37.5%,#c5105e 40.0%,#d30d5d 42.5%,#e10b5a 45.0%,#ec0c56 47.5%,#f81150 50.0%,#ff184b 52.5%,#ff2245 55.0%,#ff2f3f 57.5%,#ff3a3b 60.0%,#ff4939 62.5%,#ff563b 65.0%,#ff6340 67.5%,#ff7149 70.0%,#ff7c52 72.5%,#ff895d 75.0%,#ff9467 77.5%,#ff9e72 80.0%,#ffa97f 82.5%,#ffb38a 85.0%,#ffbe99 87.5%,#ffc7a6 90.0%,#ffd0b3 92.5%,#ffdac3 95.0%,#ffe3d0 97.5%,#ffebdd 100.0%)"></div>
<div class="tk" style="left:249.7px;top:461.0px;width:2.8px"></div><div class="t cl" style="--sx:1.00;left:254.7px;top:456px;font-size:10.7px">0.0</div>
<div class="tk" style="left:249.7px;top:424.1px;width:2.8px"></div><div class="t cl" style="--sx:1.00;left:254.7px;top:419px;font-size:10.7px">0.2</div>
<div class="tk" style="left:249.7px;top:387.1px;width:2.8px"></div><div class="t cl" style="--sx:1.00;left:254.7px;top:382px;font-size:10.7px">0.4</div>
<div class="tk" style="left:249.7px;top:350.2px;width:2.8px"></div><div class="t cl" style="--sx:1.00;left:254.7px;top:345px;font-size:10.7px">0.6</div>
<div class="tk" style="left:249.7px;top:313.2px;width:2.8px"></div><div class="t cl" style="--sx:1.00;left:254.7px;top:308px;font-size:10.7px">0.8</div>
<div class="tk" style="left:249.7px;top:276.3px;width:2.8px"></div><div class="t cl" style="--sx:1.00;left:254.7px;top:272px;font-size:10.7px">1.0</div>
<div class="t cap" style="left:128.6px;top:493px;">(c)</div>
<!-- panel d -->
<div class="t title" style="left:411.3px;top:262px;font-size:12.40px">Normalized Confusion Matrix</div>
<div style="left:318.7px;top:275.9px;width:184.8px;height:188.2px;background:#040316"></div>
<div class="t yl" style="--sx:1.000;left:313.4px;top:286px;font-size:11.0px">happy</div>
<div class="c" style="left:318.70px;top:275.90px;width:30.85px;height:31.42px;background:#ffd7bf;color:#262626"><span style="top:13.10px">0.85</span></div>
<div class="c" style="left:349.50px;top:275.90px;width:30.85px;height:31.42px;background:#110623;color:#fff"><span style="top:13.10px">0.05</span></div>
<div class="c" style="left:380.30px;top:275.90px;width:30.85px;height:31.42px;background:#040316;color:#fff"><span style="top:13.10px">0</span></div>
<div class="c" style="left:411.10px;top:275.90px;width:30.85px;height:31.42px;background:#040316;color:#fff"><span style="top:13.10px">0</span></div>
<div class="c" style="left:441.90px;top:275.90px;width:30.85px;height:31.42px;background:#110623;color:#fff"><span style="top:13.10px">0.05</span></div>
<div class="c" style="left:472.70px;top:275.90px;width:30.85px;height:31.42px;background:#110623;color:#fff"><span style="top:13.10px">0.05</span></div>
<div class="t yl" style="--sx:1.000;left:313.4px;top:318px;font-size:11.0px">angry</div>
<div class="c" style="left:318.70px;top:307.27px;width:30.85px;height:31.42px;background:#2b0e34;color:#fff"><span style="top:12.73px">0.1</span></div>
<div class="c" style="left:349.50px;top:307.27px;width:30.85px;height:31.42px;background:#ff9569;color:#262626"><span style="top:12.73px">0.7</span></div>
<div class="c" style="left:380.30px;top:307.27px;width:30.85px;height:31.42px;background:#040316;color:#fff"><span style="top:12.73px">0</span></div>
<div class="c" style="left:411.10px;top:307.27px;width:30.85px;height:31.42px;background:#040316;color:#fff"><span style="top:12.73px">0</span></div>
<div class="c" style="left:441.90px;top:307.27px;width:30.85px;height:31.42px;background:#2b0e34;color:#fff"><span style="top:12.73px">0.1</span></div>
<div class="c" style="left:472.70px;top:307.27px;width:30.85px;height:31.42px;background:#2b0e34;color:#fff"><span style="top:12.73px">0.1</span></div>
<div class="t yl" style="--sx:1.000;left:313.4px;top:349px;font-size:11.0px">fear</div>
<div class="c" style="left:318.70px;top:338.63px;width:30.85px;height:31.42px;background:#040316;color:#fff"><span style="top:13.37px">0</span></div>
<div class="c" style="left:349.50px;top:338.63px;width:30.85px;height:31.42px;background:#040316;color:#fff"><span style="top:13.37px">0</span></div>
<div class="c" style="left:380.30px;top:338.63px;width:30.85px;height:31.42px;background:#ff9569;color:#262626"><span style="top:13.37px">0.7</span></div>
<div class="c" style="left:411.10px;top:338.63px;width:30.85px;height:31.42px;background:#7e1957;color:#fff"><span style="top:13.37px">0.25</span></div>
<div class="c" style="left:441.90px;top:338.63px;width:30.85px;height:31.42px;background:#110623;color:#fff"><span style="top:13.37px">0.05</span></div>
<div class="c" style="left:472.70px;top:338.63px;width:30.85px;height:31.42px;background:#040316;color:#fff"><span style="top:13.37px">0</span></div>
<div class="t yl" style="--sx:1.000;left:313.4px;top:381px;font-size:11.0px">sad</div>
<div class="c" style="left:318.70px;top:370.00px;width:30.85px;height:31.42px;background:#040316;color:#fff"><span style="top:13.00px">0</span></div>
<div class="c" style="left:349.50px;top:370.00px;width:30.85px;height:31.42px;background:#040316;color:#fff"><span style="top:13.00px">0</span></div>
<div class="c" style="left:380.30px;top:370.00px;width:30.85px;height:31.42px;background:#61184e;color:#fff"><span style="top:13.00px">0.2</span></div>
<div class="c" style="left:411.10px;top:370.00px;width:30.85px;height:31.42px;background:#ffc29f;color:#262626"><span style="top:13.00px">0.8</span></div>
<div class="c" style="left:441.90px;top:370.00px;width:30.85px;height:31.42px;background:#040316;color:#fff"><span style="top:13.00px">0</span></div>
<div class="c" style="left:472.70px;top:370.00px;width:30.85px;height:31.42px;background:#040316;color:#fff"><span style="top:13.00px">0</span></div>
<div class="t yl" style="--sx:1.000;left:313.4px;top:412px;font-size:11.0px">neutral</div>
<div class="c" style="left:318.70px;top:401.37px;width:30.85px;height:31.42px;background:#040316;color:#fff"><span style="top:13.63px">0</span></div>
<div class="c" style="left:349.50px;top:401.37px;width:30.85px;height:31.42px;background:#110623;color:#fff"><span style="top:13.63px">0.05</span></div>
<div class="c" style="left:380.30px;top:401.37px;width:30.85px;height:31.42px;background:#040316;color:#fff"><span style="top:13.63px">0</span></div>
<div class="c" style="left:411.10px;top:401.37px;width:30.85px;height:31.42px;background:#110623;color:#fff"><span style="top:13.63px">0.05</span></div>
<div class="c" style="left:441.90px;top:401.37px;width:30.85px;height:31.42px;background:#ffebdd;color:#262626"><span style="top:13.63px">0.9</span></div>
<div class="c" style="left:472.70px;top:401.37px;width:30.85px;height:31.42px;background:#040316;color:#fff"><span style="top:13.63px">0</span></div>
<div class="t yl" style="--sx:1.000;left:313.4px;top:444px;font-size:11.0px">surprise</div>
<div class="c" style="left:318.70px;top:432.73px;width:30.85px;height:31.42px;background:#110623;color:#fff"><span style="top:13.27px">0.05</span></div>
<div class="c" style="left:349.50px;top:432.73px;width:30.85px;height:31.42px;background:#110623;color:#fff"><span style="top:13.27px">0.05</span></div>
<div class="c" style="left:380.30px;top:432.73px;width:30.85px;height:31.42px;background:#040316;color:#fff"><span style="top:13.27px">0</span></div>
<div class="c" style="left:411.10px;top:432.73px;width:30.85px;height:31.42px;background:#040316;color:#fff"><span style="top:13.27px">0</span></div>
<div class="c" style="left:441.90px;top:432.73px;width:30.85px;height:31.42px;background:#040316;color:#fff"><span style="top:13.27px">0</span></div>
<div class="c" style="left:472.70px;top:432.73px;width:30.85px;height:31.42px;background:#ffebdd;color:#262626"><span style="top:13.27px">0.9</span></div>
<div class="clip" style="left:313.7px;top:466.1px;width:194.8px;height:25.4px">
<div class="t xlw" style="left:20.4px;top:4.5px;font-size:11.0px"><div class="t xl2">happy</div></div>
<div class="t xlw" style="left:51.2px;top:4.5px;font-size:11.0px"><div class="t xl2">angry</div></div>
<div class="t xlw" style="left:82.0px;top:4.5px;font-size:11.0px"><div class="t xl2">fear</div></div>
<div class="t xlw" style="left:112.8px;top:4.5px;font-size:11.0px"><div class="t xl2">sad</div></div>
<div class="t xlw" style="left:143.6px;top:4.5px;font-size:11.0px"><div class="t xl2">neutral</div></div>
<div class="t xlw" style="left:174.4px;top:4.5px;font-size:11.0px"><div class="t xl2">surprise</div></div>
</div>
<div style="left:514.9px;top:275.9px;width:9.5px;height:188.2px;background:linear-gradient(to top,#040316 0.0%,#04031a 2.5%,#0d0521 5.0%,#1a0929 7.5%,#250c30 10.0%,#331038 12.5%,#3e133f 15.0%,#4a1544 17.5%,#57174b 20.0%,#63184f 22.5%,#711954 25.0%,#7c1957 27.5%,#881959 30.0%,#98185c 32.5%,#a6165d 35.0%,#b6135e 37.5%,#c5105e 40.0%,#d30d5d 42.5%,#e10b5a 45.0%,#ec0c56 47.5%,#f81150 50.0%,#ff184b 52.5%,#ff2245 55.0%,#ff2f3f 57.5%,#ff3a3b 60.0%,#ff4939 62.5%,#ff563b 65.0%,#ff6340 67.5%,#ff7149 70.0%,#ff7c52 72.5%,#ff895d 75.0%,#ff9467 77.5%,#ff9e72 80.0%,#ffa97f 82.5%,#ffb38a 85.0%,#ffbe99 87.5%,#ffc7a6 90.0%,#ffd0b3 92.5%,#ffdac3 95.0%,#ffe3d0 97.5%,#ffebdd 100.0%)"></div>
<div class="tk" style="left:524.4px;top:463.7px;width:2.8px"></div><div class="t cl" style="--sx:1.00;left:529.4px;top:459px;font-size:10.7px">0.0</div>
<div class="tk" style="left:524.4px;top:421.9px;width:2.8px"></div><div class="t cl" style="--sx:1.00;left:529.4px;top:417px;font-size:10.7px">0.2</div>
<div class="tk" style="left:524.4px;top:380.1px;width:2.8px"></div><div class="t cl" style="--sx:1.00;left:529.4px;top:375px;font-size:10.7px">0.4</div>
<div class="tk" style="left:524.4px;top:338.2px;width:2.8px"></div><div class="t cl" style="--sx:1.00;left:529.4px;top:333px;font-size:10.7px">0.6</div>
<div class="tk" style="left:524.4px;top:296.4px;width:2.8px"></div><div class="t cl" style="--sx:1.00;left:529.4px;top:292px;font-size:10.7px">0.8</div>
<div class="t cap" style="left:419.8px;top:493px;">(d)</div>
</body></html>
